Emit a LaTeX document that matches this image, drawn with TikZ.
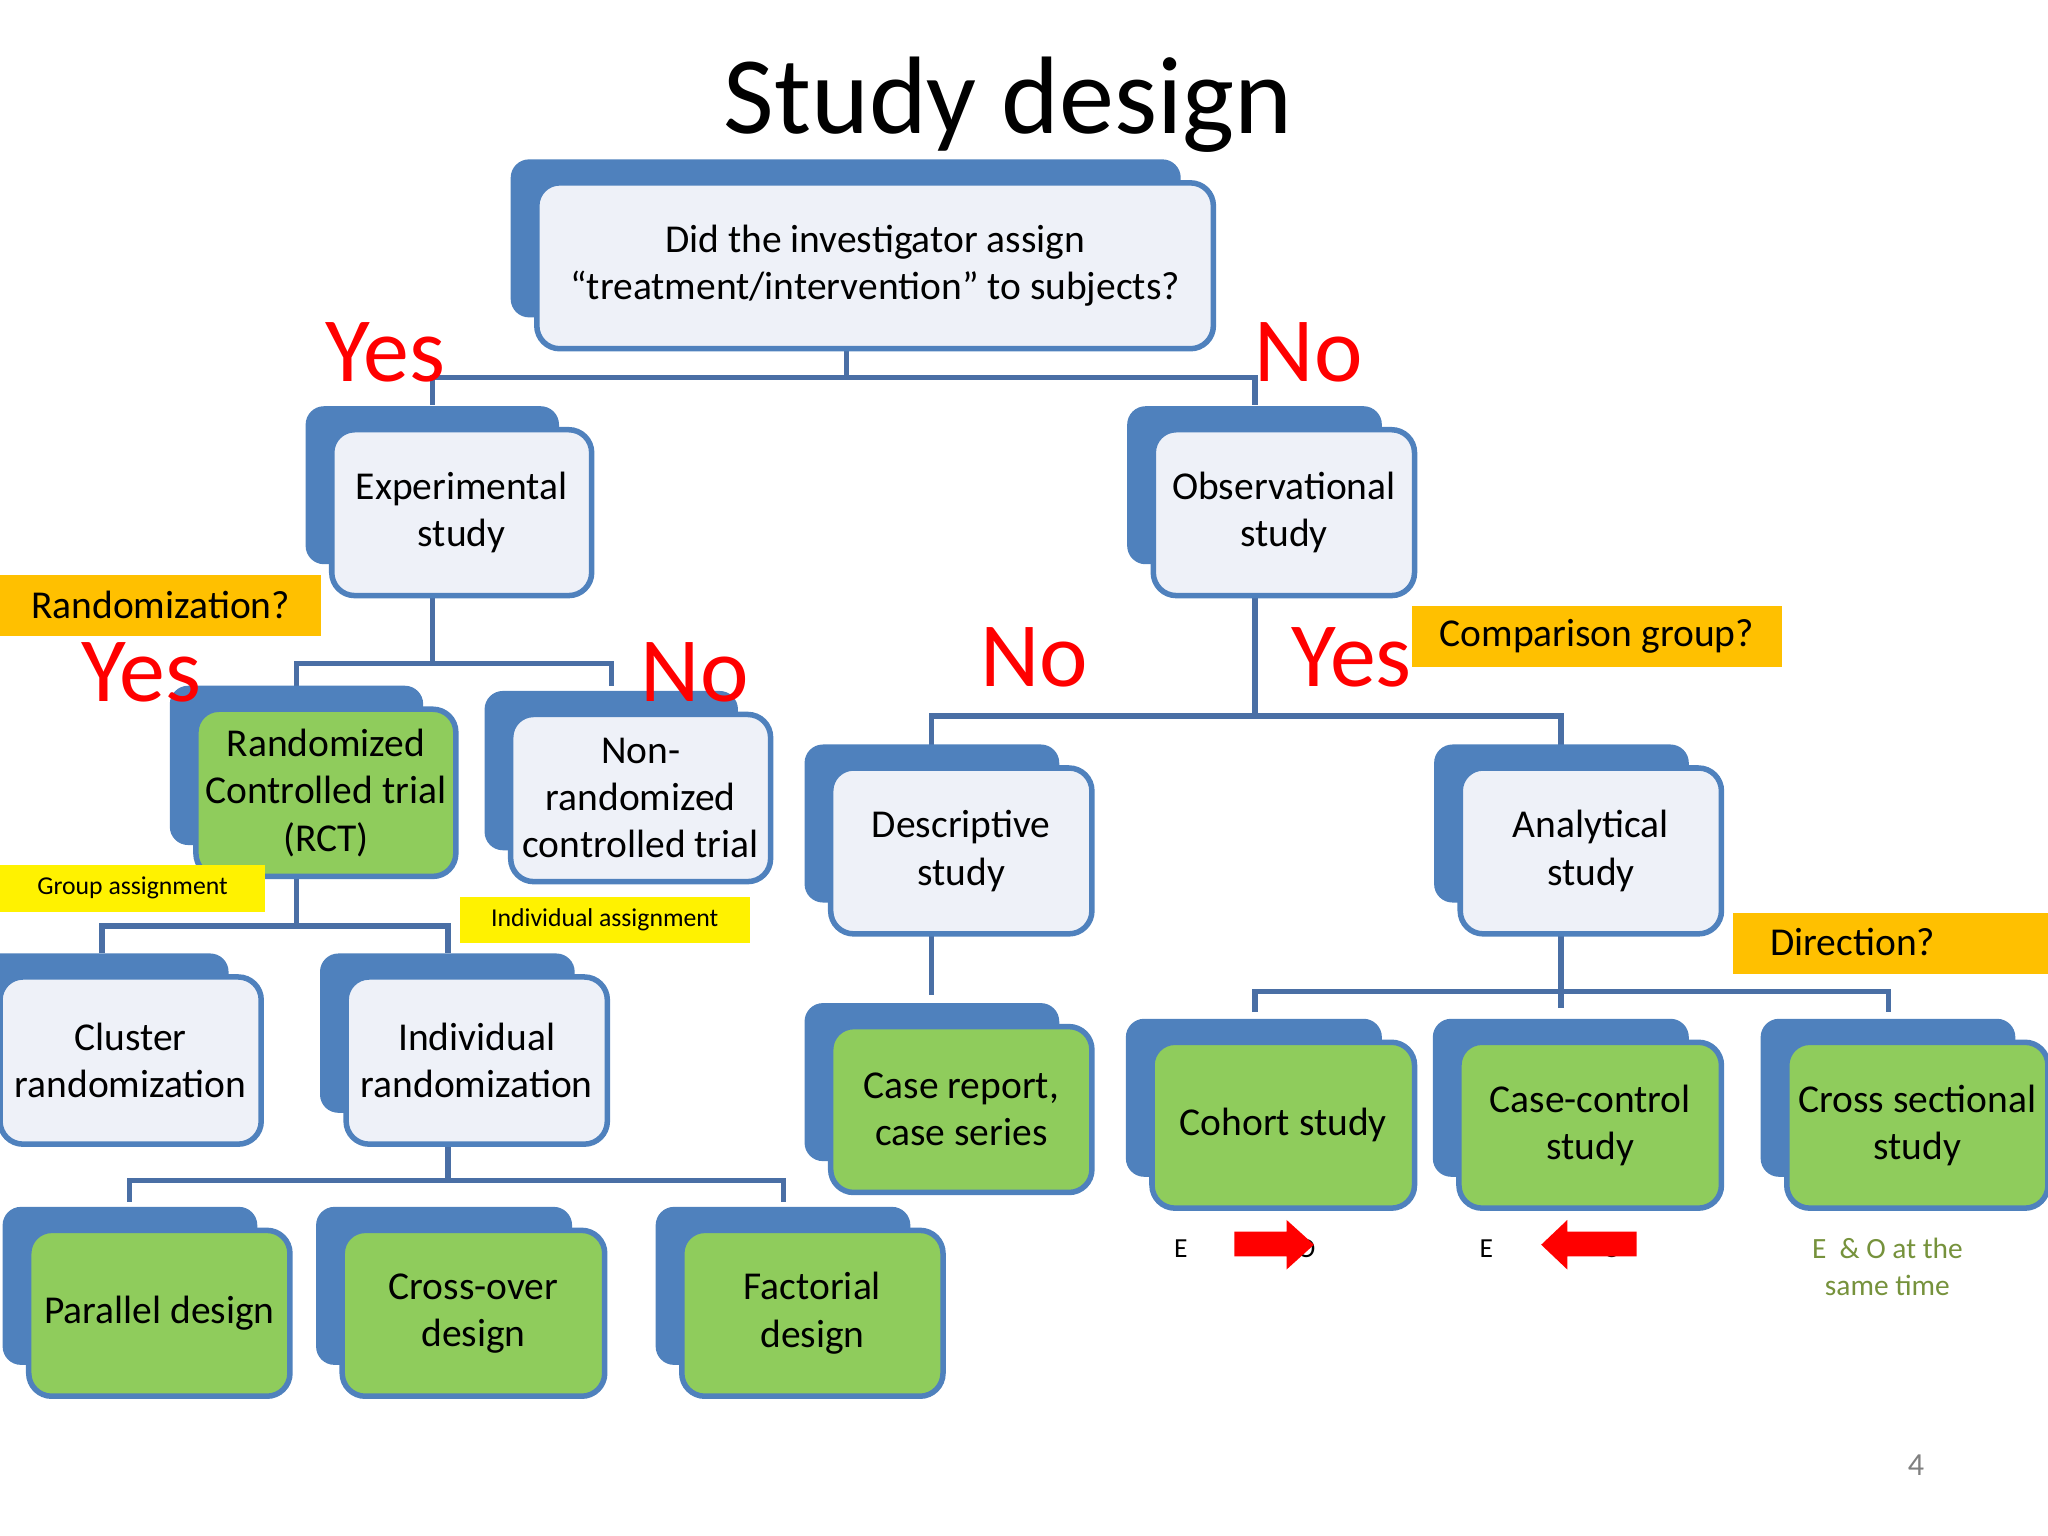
\documentclass[tikz,border=0pt]{standalone}
\usepackage{fontspec}
\setmainfont{Carlito}
\usetikzlibrary{fit}
\definecolor{bblue}{HTML}{4F81BD}
\definecolor{bline}{HTML}{4A6FA5}
\definecolor{lfill}{HTML}{EEF1F8}
\definecolor{gfill}{HTML}{8FCC5C}
\definecolor{orng}{HTML}{FFC000}
\definecolor{olive}{HTML}{76923C}
\tikzset{
 back/.style={fill=bblue, rounded corners=4pt},
 front/.style={draw=bblue, line width=1.2pt, rounded corners=5pt, inner sep=0pt, align=center, font=\fontsize{8.6pt}{10pt}\selectfont},
 lt/.style={front, fill=lfill},
 gr/.style={front, fill=gfill},
 conn/.style={draw=bline, line width=1.2pt},
 yn/.style={text=red, font=\fontsize{20pt}{22pt}\selectfont, inner sep=0pt},
 tag/.style={fill=orng, inner sep=0pt, font=\fontsize{8.6pt}{10pt}\selectfont},
 ytag/.style={fill=yellow, inner sep=0pt, font=\fontsize{6pt}{7pt}\selectfont},
}
\newcommand\bx[7]{%
 \fill[back] (#2-20,#3-18) rectangle (#4-25,#5-24);
 \node[#6, fit={(#2,#3)(#4,#5)}] (#1) {};
 \node[align=center, font=\fontsize{8.6pt}{10.3pt}\selectfont] at (#1.center) {#7};
}
\begin{document}
\begin{tikzpicture}[x=0.01cm,y=-0.01cm]
\useasboundingbox (0,0) rectangle (1568,1176);
\node[font=\fontsize{24pt}{26pt}\selectfont] (title) at (772,80) {Study design};
% connectors first
\coordinate (j1) at (648,289);
\coordinate (j1l) at (331,289); \coordinate (j1r) at (961,289);
\draw[conn] (648,267) -- (j1);
\draw[conn] (331,310) -- (j1l) -- (j1r) -- (961,310);
\coordinate (j2) at (331,508);
\draw[conn] (331,456) -- (j2);
\draw[conn] (227,525) |- (468,508) -- (468,525);
\draw[conn] (961,456) -- (961,548);
\draw[conn] (713,575) |- (1195,548) -- (1195,575);
\draw[conn] (227,671) -- (227,709);
\draw[conn] (78,730) |- (343,709) -- (343,730);
\draw[conn] (713,715) -- (713,762);
\draw[conn] (1195,715) -- (1195,772);
\draw[conn] (961,775) |- (1446,759) -- (1446,775);
\draw[conn] (343,876) -- (343,904);
\draw[conn] (99,920) |- (600,904) -- (600,920);
% boxes
\bx{top}{411}{140}{929}{267}{lt}{Did the investigator assign\\``treatment/intervention'' to subjects?}
\bx{exp}{254}{329}{453}{456}{lt}{Experimental\\study}
\bx{obs}{883}{329}{1083}{456}{lt}{Observational\\study}
\bx{rct}{150}{543}{349}{671}{gr}{Randomized\\Controlled trial\\(RCT)}
\bx{nonr}{391}{547}{590}{675}{lt}{Non-\\randomized\\controlled trial}
\bx{desc}{636}{588}{836}{715}{lt}{Descriptive\\study}
\bx{anal}{1118}{588}{1318}{715}{lt}{Analytical\\study}
\bx{clus}{0}{748}{200}{876}{lt}{Cluster\\randomization}
\bx{indiv}{265}{748}{465}{876}{lt}{Individual\\randomization}
\bx{casrep}{636}{786}{836}{913}{gr}{Case report,\\case series}
\bx{coh}{882}{798}{1083}{925}{gr}{Cohort study}
\bx{cc}{1117}{798}{1318}{925}{gr}{Case-control\\study}
\bx{cs}{1368}{798}{1568}{925}{gr}{Cross sectional\\study}
\bx{par}{22}{942}{222}{1069}{gr}{Parallel design}
\bx{cro}{262}{942}{463}{1069}{gr}{Cross-over\\design}
\bx{fac}{522}{942}{722}{1069}{gr}{Factorial\\design}
% labels
\node[yn] (y1) at (295,270) {Yes};
\node[yn] (n1) at (1002,270) {No};
\node[yn] (y2) at (108,515) {Yes};
\node[yn] (n2) at (532,515) {No};
\node[yn] (n3) at (792,503) {No};
\node[yn] (y3) at (1035,503) {Yes};
\node[tag, fit={(0,440)(246,487)}] (t1) {}; \node[font=\fontsize{8.6pt}{10pt}\selectfont] at (t1.center) {Randomization?};
\node[tag, fit={(1081,464)(1364,511)}] (t2) {}; \node[font=\fontsize{8.6pt}{10pt}\selectfont] at (t2.center) {Comparison group?};
\node[tag, fit={(1327,699)(1568,746)}] (t3) {}; \node[font=\fontsize{8.6pt}{10pt}\selectfont, anchor=west] at (1343,721) {Direction?};
\node[ytag, fit={(0,662)(203,698)}] (t4) {}; \node[font=\fontsize{5.6pt}{7pt}\selectfont] at (t4.center) {Group assignment};
\node[ytag, fit={(352,687)(574,722)}] (t5) {}; \node[font=\fontsize{5.6pt}{7pt}\selectfont] at (t5.center) {Individual assignment};
\node[font=\fontsize{6pt}{7pt}\selectfont] (e1) at (904,956) {E};
\node[font=\fontsize{6pt}{7pt}\selectfont] (o1) at (1000,956) {O};
\fill[red] (945,943) -- (985,943) -- (985,934) -- (1006,953) -- (985,972) -- (985,962) -- (945,962) -- cycle;
\node[font=\fontsize{6pt}{7pt}\selectfont] (e2) at (1138,956) {E};
\node[font=\fontsize{6pt}{7pt}\selectfont] (o2) at (1234,956) {O};
\fill[red] (1253,943) -- (1200,943) -- (1200,934) -- (1180,953) -- (1200,972) -- (1200,962) -- (1253,962) -- cycle;
\node[text=olive, align=center, font=\fontsize{6.4pt}{8pt}\selectfont] (eo) at (1445,970) {E\ \ \& O at the\\same time};
\node[text=gray, font=\fontsize{7pt}{8pt}\selectfont] (pg) at (1467,1122) {4};
\end{tikzpicture}
\end{document}
